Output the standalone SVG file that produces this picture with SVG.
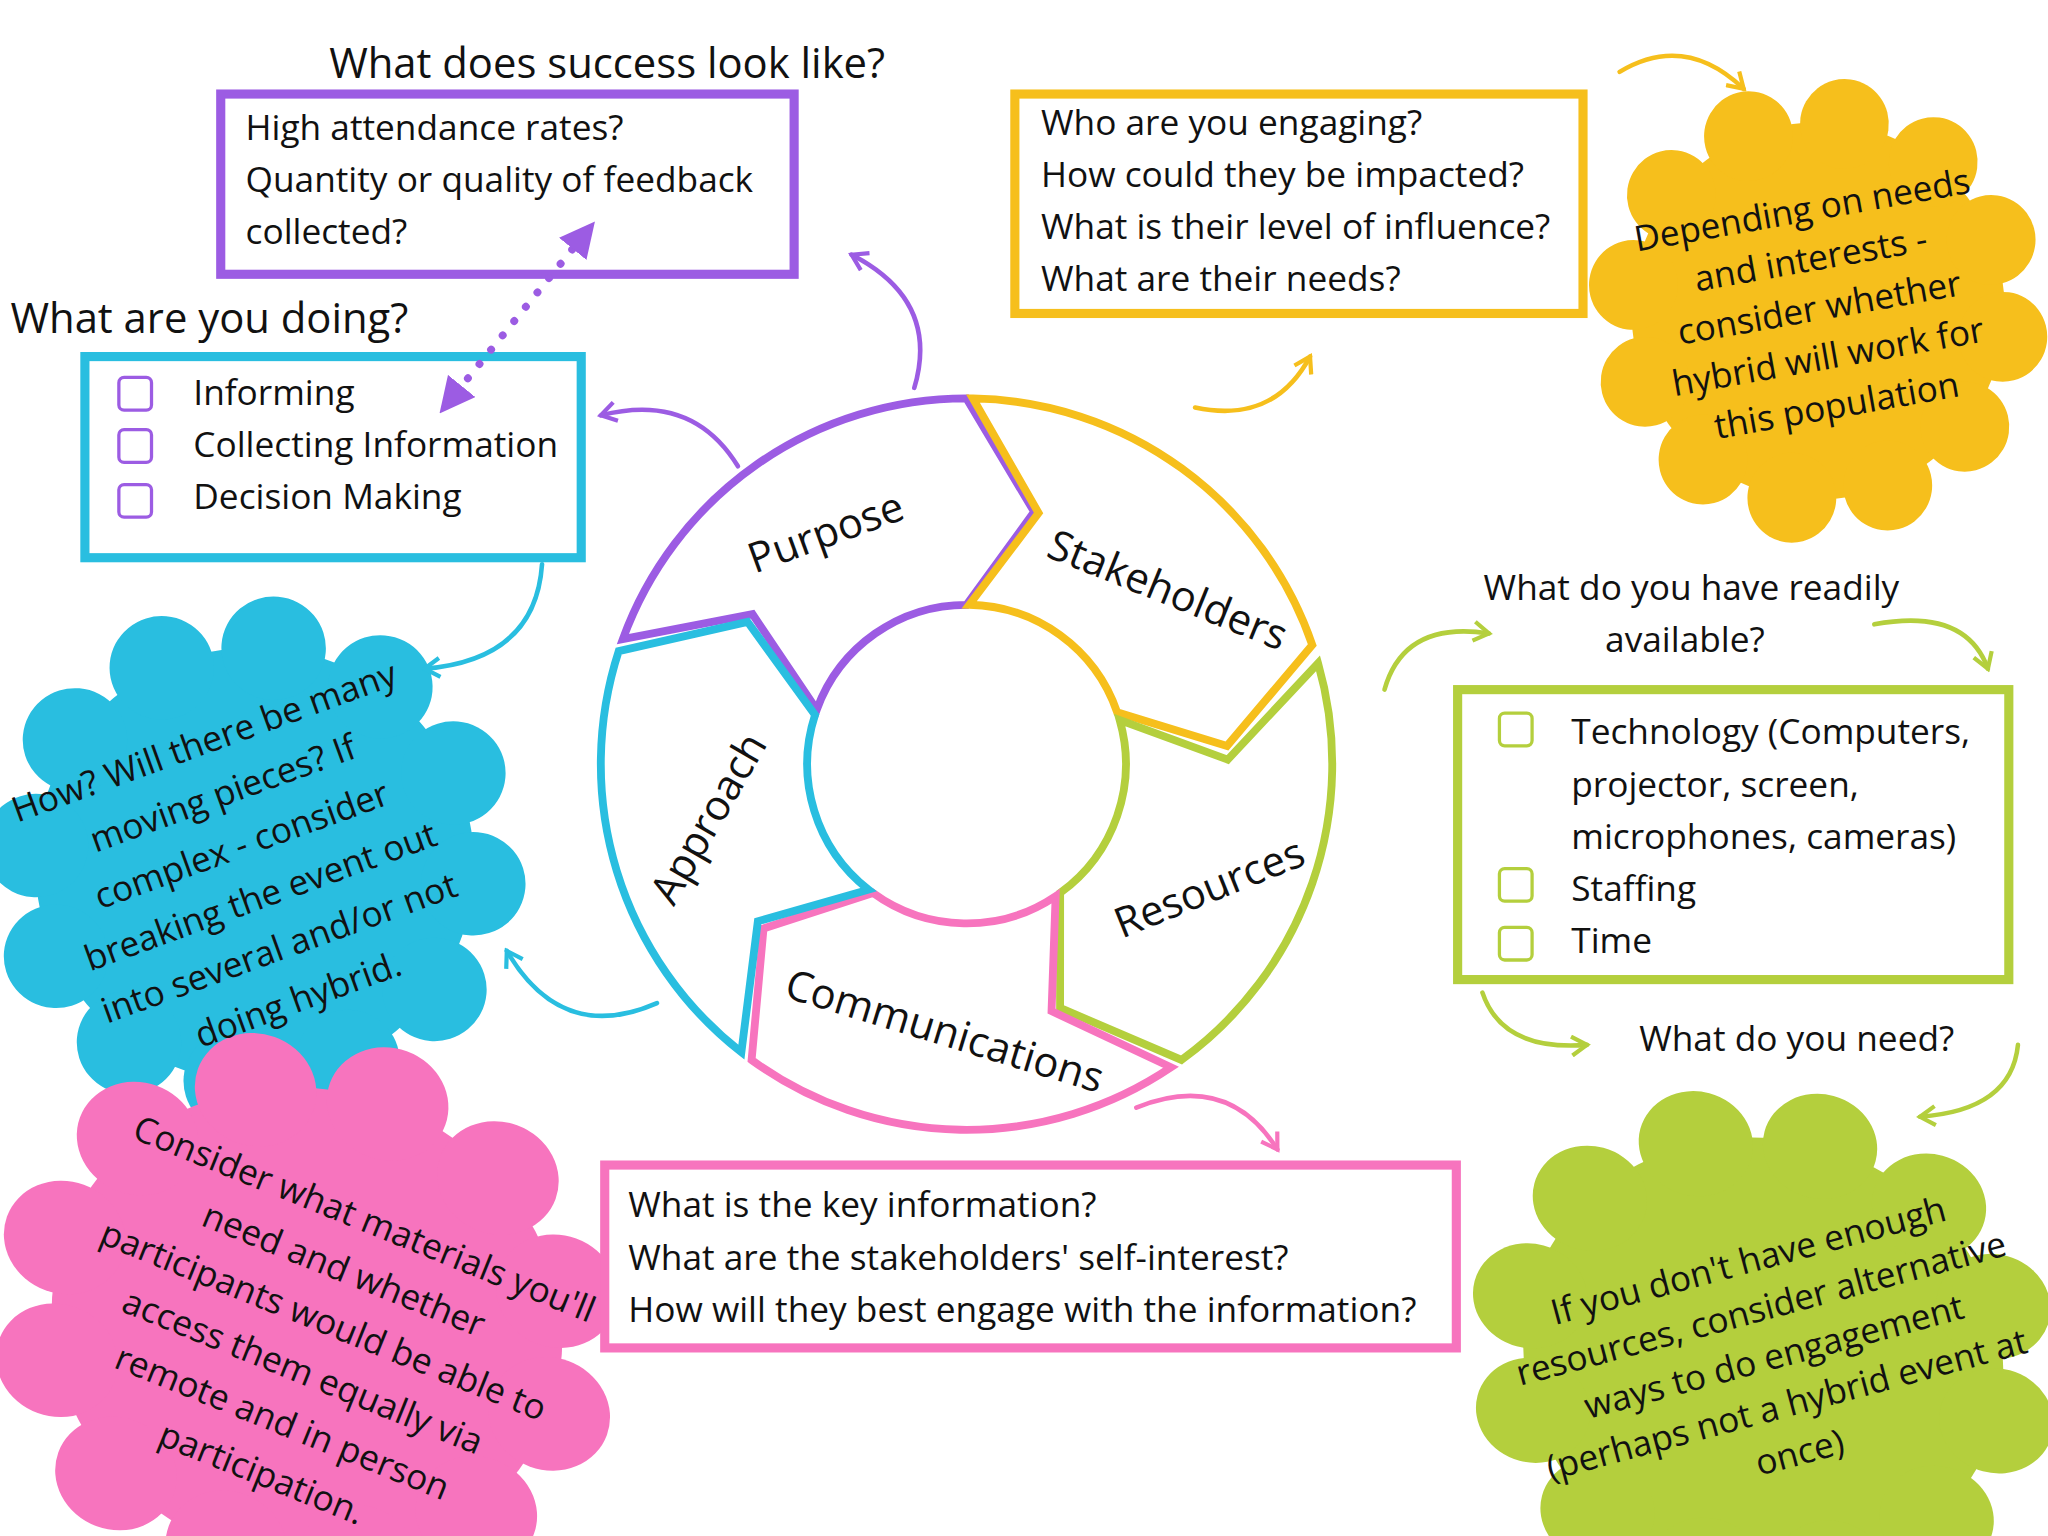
<svg xmlns="http://www.w3.org/2000/svg" width="2048" height="1536" viewBox="0 0 2048 1536">
<defs>
<style>
text{font-family:"Open Sans","Liberation Sans",sans-serif;fill:#111}
.t{font-size:27px}
.h{font-size:32px}
.seg{fill:#fff;stroke-width:6;stroke-linejoin:miter}
.box{fill:#fff;stroke-width:7}
.arr{fill:none;stroke-width:3.5;stroke-linecap:round}
.cb{fill:#fff;stroke-width:2.5}
.c{text-anchor:middle}
</style>
<marker id="mp" viewBox="0 0 12 12" refX="10" refY="6" markerWidth="5" markerHeight="5" orient="auto" markerUnits="strokeWidth"><polyline points="2,1 10,6 2,11" fill="none" stroke="#9c5ce3" stroke-width="2.2"/></marker>
<marker id="my" viewBox="0 0 12 12" refX="10" refY="6" markerWidth="5" markerHeight="5" orient="auto" markerUnits="strokeWidth"><polyline points="2,1 10,6 2,11" fill="none" stroke="#f6bf1c" stroke-width="2.2"/></marker>
<marker id="mc" viewBox="0 0 12 12" refX="10" refY="6" markerWidth="5" markerHeight="5" orient="auto" markerUnits="strokeWidth"><polyline points="2,1 10,6 2,11" fill="none" stroke="#29bee0" stroke-width="2.2"/></marker>
<marker id="mk" viewBox="0 0 12 12" refX="10" refY="6" markerWidth="5" markerHeight="5" orient="auto" markerUnits="strokeWidth"><polyline points="2,1 10,6 2,11" fill="none" stroke="#f774be" stroke-width="2.2"/></marker>
<marker id="mg" viewBox="0 0 12 12" refX="10" refY="6" markerWidth="5" markerHeight="5" orient="auto" markerUnits="strokeWidth"><polyline points="2,1 10,6 2,11" fill="none" stroke="#b4cf3d" stroke-width="2.2"/></marker>
<marker id="tri" viewBox="0 0 10 10" refX="5" refY="5" markerWidth="4.5" markerHeight="4.5" orient="auto-start-reverse"><polygon points="0,0 10,5 0,10" fill="#9c5ce3"/></marker>
<path id="segp" d="M280,0 A280,280 0 0 1 95.8,263.1 L17.4,199.2 L41.7,114.6 A122,122 0 0 0 122,0 L193.2,51.8 Z"/>
<g id="blob"><circle r="0.84"/>
<circle cx="0.84" cy="0" r="0.2"/><circle cx="0.727" cy="0.42" r="0.2"/><circle cx="0.42" cy="0.727" r="0.2"/><circle cx="0" cy="0.84" r="0.2"/><circle cx="-0.42" cy="0.727" r="0.2"/><circle cx="-0.727" cy="0.42" r="0.2"/><circle cx="-0.84" cy="0" r="0.2"/><circle cx="-0.727" cy="-0.42" r="0.2"/><circle cx="-0.42" cy="-0.727" r="0.2"/><circle cx="0" cy="-0.84" r="0.2"/><circle cx="0.42" cy="-0.727" r="0.2"/><circle cx="0.727" cy="-0.42" r="0.2"/></g>
</defs>
<rect width="2048" height="1536" fill="#fff"/>
<g transform="scale(1.30612)">
<g id="blobs">
<g id="blob-yellow" fill="#f6bf1c"><use href="#blob" transform="translate(1392,238) rotate(8) scale(170,172)"/></g>
<g id="blob-cyan" fill="#29bee0"><use href="#blob" transform="translate(195,662) rotate(5) scale(200,198)"/></g>
<g id="blob-pink" fill="#f774be"><use href="#blob" transform="translate(235,1015) rotate(20) scale(235,215)"/></g>
<g id="blob-green" fill="#b4cf3d"><use href="#blob" transform="translate(1350,1040) rotate(15) scale(220,200)"/></g>
</g>
<g id="ring" transform="translate(740,585)">
<g id="purpose"><use href="#segp" class="seg" stroke="#9c5ce3" transform="rotate(-160)"/></g>
<g id="stakeholders"><use href="#segp" class="seg" stroke="#f6bf1c" transform="rotate(-89)"/></g>
<g id="resources"><use href="#segp" class="seg" stroke="#b4cf3d" transform="rotate(-16)"/></g>
<g id="communications"><use href="#segp" class="seg" stroke="#f774be" transform="rotate(56)"/></g>
<g id="approach"><use href="#segp" class="seg" stroke="#29bee0" transform="rotate(128)"/></g>
</g>
<g id="ring-labels">
<text class="h c" transform="translate(636,418) rotate(-20)">Purpose</text>
<text class="h c" transform="translate(890,462) rotate(22)">Stakeholders</text>
<text class="h c" transform="translate(930,690) rotate(-22)">Resources</text>
<text class="h c" transform="translate(720,800) rotate(17)">Communications</text>
<text class="h c" transform="translate(552,632) rotate(-60)">Approach</text>
</g>
<g id="box-purple"><text class="h" x="252" y="60">What does success look like?</text><rect class="box" x="169" y="72" width="439" height="138" stroke="#9c5ce3"/><text class="t" x="188" y="107">High attendance rates?</text><text class="t" x="188" y="147">Quantity or quality of feedback</text><text class="t" x="188" y="187">collected?</text></g>
<g id="box-cyan"><text class="h" x="8" y="255">What are you doing?</text><rect class="box" x="65" y="273" width="380" height="154" stroke="#29bee0"/>
<rect class="cb" x="91" y="289" width="25" height="25" rx="4" stroke="#9c5ce3"/><rect class="cb" x="91" y="329" width="25" height="25" rx="4" stroke="#9c5ce3"/><rect class="cb" x="91" y="371" width="25" height="25" rx="4" stroke="#9c5ce3"/>
<text class="t" x="148" y="310">Informing</text><text class="t" x="148" y="350">Collecting Information</text><text class="t" x="148" y="390">Decision Making</text></g>
<g id="box-yellow"><rect class="box" x="777" y="72" width="435" height="168" stroke="#f6bf1c"/><text class="t" x="797" y="103">Who are you engaging?</text><text class="t" x="797" y="143">How could they be impacted?</text><text class="t" x="797" y="183">What is their level of influence?</text><text class="t" x="797" y="223">What are their needs?</text></g>
<g id="box-pink"><rect class="box" x="463" y="892" width="652" height="140" stroke="#f774be"/><text class="t" x="481" y="932">What is the key information?</text><text class="t" x="481" y="972">What are the stakeholders' self-interest?</text><text class="t" x="481" y="1012">How will they best engage with the information?</text></g>
<g id="box-green"><text class="t c" x="1295" y="459">What do you have readily</text><text class="t c" x="1290" y="499">available?</text><rect class="box" x="1116" y="528" width="422" height="222" stroke="#b4cf3d"/>
<rect class="cb" x="1148" y="546" width="25" height="25" rx="4" stroke="#b4cf3d"/><rect class="cb" x="1148" y="665" width="25" height="25" rx="4" stroke="#b4cf3d"/><rect class="cb" x="1148" y="710" width="25" height="25" rx="4" stroke="#b4cf3d"/>
<text class="t" x="1203" y="570">Technology (Computers,</text><text class="t" x="1203" y="610">projector, screen,</text><text class="t" x="1203" y="650">microphones, cameras)</text><text class="t" x="1203" y="690">Staffing</text><text class="t" x="1203" y="730">Time</text>
<text class="t" x="1255" y="805">What do you need?</text></g>
<g id="blob-texts">
<g transform="translate(1393,236) rotate(-10)"><text class="t c" y="-67">Depending on needs</text><text class="t c" y="-29">and interests -</text><text class="t c" y="9">consider whether</text><text class="t c" y="47">hybrid will work for</text><text class="t c" y="85">this population</text></g>
<g transform="translate(192,666) rotate(-20)"><text class="t c" y="-95">How? Will there be many</text><text class="t c" y="-53">moving pieces? If</text><text class="t c" y="-11">complex - consider</text><text class="t c" y="31">breaking the event out</text><text class="t c" y="73">into several and/or not</text><text class="t c" y="115">doing hybrid.</text></g>
<g transform="translate(240,1030) rotate(22)"><text class="t c" y="-95">Consider what materials you'll</text><text class="t c" y="-53">need and whether</text><text class="t c" y="-11">participants would be able to</text><text class="t c" y="31">access them equally via</text><text class="t c" y="73">remote and in person</text><text class="t c" y="115">participation.</text></g>
<g transform="translate(1358,1038) rotate(-15)"><text class="t c" y="-66">If you don't have enough</text><text class="t c" y="-28">resources, consider alternative</text><text class="t c" y="10">ways to do engagement</text><text class="t c" y="48">(perhaps not a hybrid event at</text><text class="t c" y="86">once)</text></g>
</g>
<g id="connectors">
<path class="arr" stroke="#9c5ce3" marker-end="url(#mp)" d="M700,297 Q720,230 652,195"/>
<path class="arr" stroke="#9c5ce3" marker-end="url(#mp)" d="M565,357 Q530,300 460,318"/>
<path fill="none" stroke="#9c5ce3" stroke-width="6" stroke-linecap="round" stroke-dasharray="0.1 14" marker-start="url(#tri)" marker-end="url(#tri)" d="M447,180 L345,306"/>
<path class="arr" stroke="#f6bf1c" marker-end="url(#my)" d="M915,312 Q975,325 1003,273"/>
<path class="arr" stroke="#f6bf1c" marker-end="url(#my)" d="M1240,55 Q1290,25 1335,68"/>
<path class="arr" stroke="#29bee0" marker-end="url(#mc)" d="M415,432 Q410,505 325,512"/>
<path class="arr" stroke="#29bee0" marker-end="url(#mc)" d="M503,768 Q430,800 388,728"/>
<path class="arr" stroke="#f774be" marker-end="url(#mk)" d="M870,848 Q940,820 978,880"/>
<path class="arr" stroke="#b4cf3d" marker-end="url(#mg)" d="M1060,528 Q1075,475 1140,485"/>
<path class="arr" stroke="#b4cf3d" marker-end="url(#mg)" d="M1435,478 Q1505,465 1522,512"/>
<path class="arr" stroke="#b4cf3d" marker-end="url(#mg)" d="M1135,760 Q1150,805 1215,800"/>
<path class="arr" stroke="#b4cf3d" marker-end="url(#mg)" d="M1545,800 Q1540,850 1470,855"/>
</g>
</g>
</svg>
